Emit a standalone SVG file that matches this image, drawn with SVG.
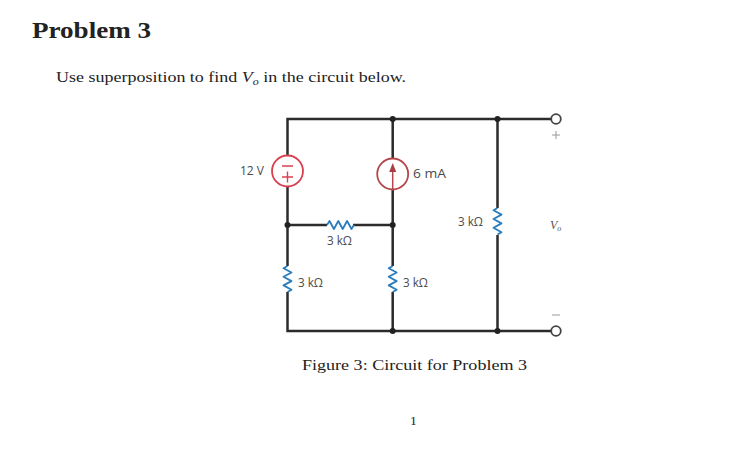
<svg xmlns="http://www.w3.org/2000/svg" width="740" height="458" viewBox="0 0 740 458">
<defs><style>
.w{fill:none;stroke:#2b2b2b;stroke-width:2.5}
.r{fill:none;stroke:#2a7dbd;stroke-width:1.8;stroke-linejoin:round}
.d{fill:#222}
.l{font-family:"Open Sans","Liberation Sans",sans-serif;font-size:12px;fill:#4a4a4a}
.t{font-family:"Liberation Serif",serif;fill:#222}
</style></defs>
<rect width="740" height="458" fill="#fff"/>
<text class="t" x="32" y="38" font-size="24" font-weight="bold" textLength="119" lengthAdjust="spacingAndGlyphs">Problem 3</text>
<text class="t" x="56" y="82" font-size="15" textLength="350" lengthAdjust="spacingAndGlyphs">Use superposition to find <tspan font-style="italic">V<tspan font-size="10" dy="3">o</tspan></tspan><tspan dy="-3"> in the circuit below.</tspan></text>
<g id="connectors">
<path class="w" d="M287.5 155V119H551M287.500 187V266M287.500 292V331H551M392.700 119V158M392.700 190V266M392.700 292V331M497.500 119V208M497.500 235V331M287.500 225H327M353 225H392.700"/>
</g>
<g id="r-top"><path class="r" d="M327 225l2.500-4 4.400 8 4.400-8 4.400 8 4.400-8 4.400 8 2.400-4"/><text class="l" x="327" y="245" textLength="25" lengthAdjust="spacingAndGlyphs">3 kΩ</text></g>
<g id="r-left"><path class="r" d="M287.500 266l-4 2.200 8 4.300-8 4.300 8 4.300-8 4.300 8 4.300-4 2.300"/><text class="l" x="298" y="287" textLength="25" lengthAdjust="spacingAndGlyphs">3 kΩ</text></g>
<g id="r-mid"><path class="r" d="M392.700 266l-4 2.200 8 4.300-8 4.300 8 4.300-8 4.300 8 4.300-4 2.300"/><text class="l" x="403" y="287" textLength="25" lengthAdjust="spacingAndGlyphs">3 kΩ</text></g>
<g id="r-right"><path class="r" d="M497.500 208l-4 2.200 8 4.400-8 4.400 8 4.400-8 4.400 8 4.400-4 2.300"/><text class="l" x="458" y="226" textLength="25" lengthAdjust="spacingAndGlyphs">3 kΩ</text></g>
<g id="v-source"><circle cx="287.500" cy="171" r="15.500" fill="none" stroke="#d9404f" stroke-width="1.800"/><path d="M282 166h11M282 177h11M287.500 171.500v11" fill="none" stroke="#d9404f" stroke-width="1.400"/><text class="l" x="240" y="175" textLength="24" lengthAdjust="spacingAndGlyphs">12 V</text></g>
<g id="i-source"><circle cx="392.700" cy="174" r="15.500" fill="none" stroke="#b5474d" stroke-width="1.800"/><path d="M392.700 189V170" stroke="#b5474d" stroke-width="1.500"/><path d="M392.700 163l3.500 9h-7z" fill="#a83e44"/><text class="l" x="413" y="178" textLength="33" lengthAdjust="spacingAndGlyphs">6 mA</text></g>
<g id="junctions" class="d"><circle cx="392.700" cy="119" r="3"/><circle cx="497.500" cy="119" r="3"/><circle cx="287.500" cy="225" r="3"/><circle cx="392.700" cy="225" r="3"/><circle cx="392.700" cy="331" r="3"/><circle cx="497.500" cy="331" r="3"/></g>
<g id="terminal-plus"><circle cx="556" cy="119" r="4.800" fill="#fff" stroke="#444" stroke-width="1.800"/><path d="M552 135h8M556 131v8" stroke="#999" stroke-width="1"/></g>
<g id="terminal-minus"><circle cx="556" cy="331" r="4.800" fill="#fff" stroke="#444" stroke-width="1.800"/><path d="M552 315h8" stroke="#999" stroke-width="1"/></g>
<text x="550" y="229" font-family="Liberation Serif,serif" font-style="italic" font-size="12" fill="#555">V<tspan font-size="8" dy="2">o</tspan></text>
<text class="t" x="302" y="370" font-size="15" textLength="225" lengthAdjust="spacingAndGlyphs">Figure 3: Circuit for Problem 3</text>
<text class="t" x="410" y="425" font-size="13.500">1</text>
</svg>
